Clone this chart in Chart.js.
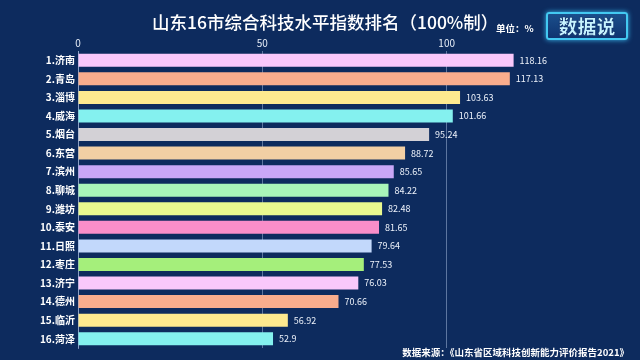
<!DOCTYPE html>
<html>
<head>
<meta charset="utf-8">
<script src="https://cdn.jsdelivr.net/npm/chart.js@4"></script>
<style>
  html, body { margin:0; padding:0; background:#0d2b5e; }
  #wrap { position:relative; width:640px; height:360px; overflow:hidden; font-family:"Noto Sans CJK SC", sans-serif; }
  canvas { position:absolute; left:0; top:0; }
  .title { position:absolute; left:152px; top:9px; color:#fff; font-size:17.5px; font-weight:500; white-space:nowrap; }
  .unit { position:absolute; left:496px; top:21px; color:#fff; font-size:9.5px; font-weight:700; white-space:nowrap; }
  .source { position:absolute; right:11px; top:345px; color:#fff; font-size:9.5px; font-weight:700; white-space:nowrap; }
  .logo { position:absolute; left:546px; top:12px; width:78px; height:24px; border:2px solid #43c9f2; border-radius:3px;
          background:linear-gradient(#1b4f8c,#0f3470); box-shadow:0 0 5px #3ab8ef; color:#c8f4ff; font-size:19px; font-weight:900;
          line-height:24px; text-align:center; letter-spacing:0; -webkit-text-stroke:0.6px #0a2a66; }
</style>
</head>
<body>
<div id="wrap">
  <canvas id="c" width="640" height="360"></canvas>
  <div class="title">山东16市综合科技水平指数排名（100%制）</div>
  <div class="unit">单位：%</div>
  <div class="logo">数据说</div>
  <div class="source">数据来源：《山东省区域科技创新能力评价报告2021》</div>
</div>
<script>
  // Data
  const cities = ['1.济南','2.青岛','3.淄博','4.威海','5.烟台','6.东营','7.滨州','8.聊城',
                  '9.潍坊','10.泰安','11.日照','12.枣庄','13.济宁','14.德州','15.临沂','16.菏泽'];
  const scores = [118.16,117.13,103.63,101.66,95.24,88.72,85.65,84.22,82.48,81.65,79.64,77.53,76.03,70.66,56.92,52.9];
  const xTicks = [0,50,100];
  const barColors = ['#f9c8fb','#f9ad8d','#fde98f','#84f1ef','#d3d1d6','#f2cfa4','#c9a7f7','#a9f5b9',
                     '#e9f98f','#f98ec9','#c2d8fb','#a5ef7b','#f9c8fb','#f9ad8d','#fde98f','#84f1ef'];

  // Value labels at bar ends
  const valueLabels = {
    id:'valueLabels',
    afterDatasetsDraw(chart){
      const ctx = chart.ctx;
      const meta = chart.getDatasetMeta(0);
      ctx.save();
      ctx.fillStyle = '#eef3fb';
      ctx.font = '9px "Noto Sans CJK SC", sans-serif';
      ctx.textBaseline = 'middle';
      ctx.textAlign = 'left';
      meta.data.forEach((bar,i)=> ctx.fillText(String(scores[i]), bar.x + 6, bar.y));
      ctx.restore();
    }
  };

  new Chart(document.getElementById('c'), {
    type:'bar',
    data:{ labels:cities, datasets:[{ data:scores, backgroundColor:barColors, barPercentage:0.7, categoryPercentage:1 }] },
    options:{
      indexAxis:'y',
      responsive:false,
      animation:false,
      layout:{ padding:{ left:0, right:9, top:0, bottom:12 } },
      plugins:{ legend:{display:false}, tooltip:{enabled:false}, title:{display:false} },
      scales:{
        x:{
          position:'top', min:0, max:150,
          afterBuildTicks(s){ s.ticks = xTicks.concat([150]).map(v=>({value:v})); },
          afterFit(s){ s.height = 51; },
          ticks:{ color:'#e6edf7', font:{size:10, family:'"Noto Sans CJK SC", sans-serif'}, padding:2,
                  callback:v=> xTicks.includes(v) ? v : '' },
          grid:{ color:ctx=> (ctx.tick && ctx.tick.value===150) ? 'rgba(0,0,0,0)' : 'rgba(160,180,215,0.55)', drawTicks:false, lineWidth:1 },
          border:{ display:false }
        },
        y:{
          afterFit(s){ s.width = 78; },
          ticks:{ color:'#ffffff', font:{size:10, weight:'bold', family:'"Noto Sans CJK SC", sans-serif'}, padding:3 },
          grid:{ display:false, drawTicks:false },
          border:{ display:true, color:'rgba(160,180,215,0.7)', width:1 }
        }
      }
    },
    plugins:[valueLabels]
  });
</script>
</body>
</html>
